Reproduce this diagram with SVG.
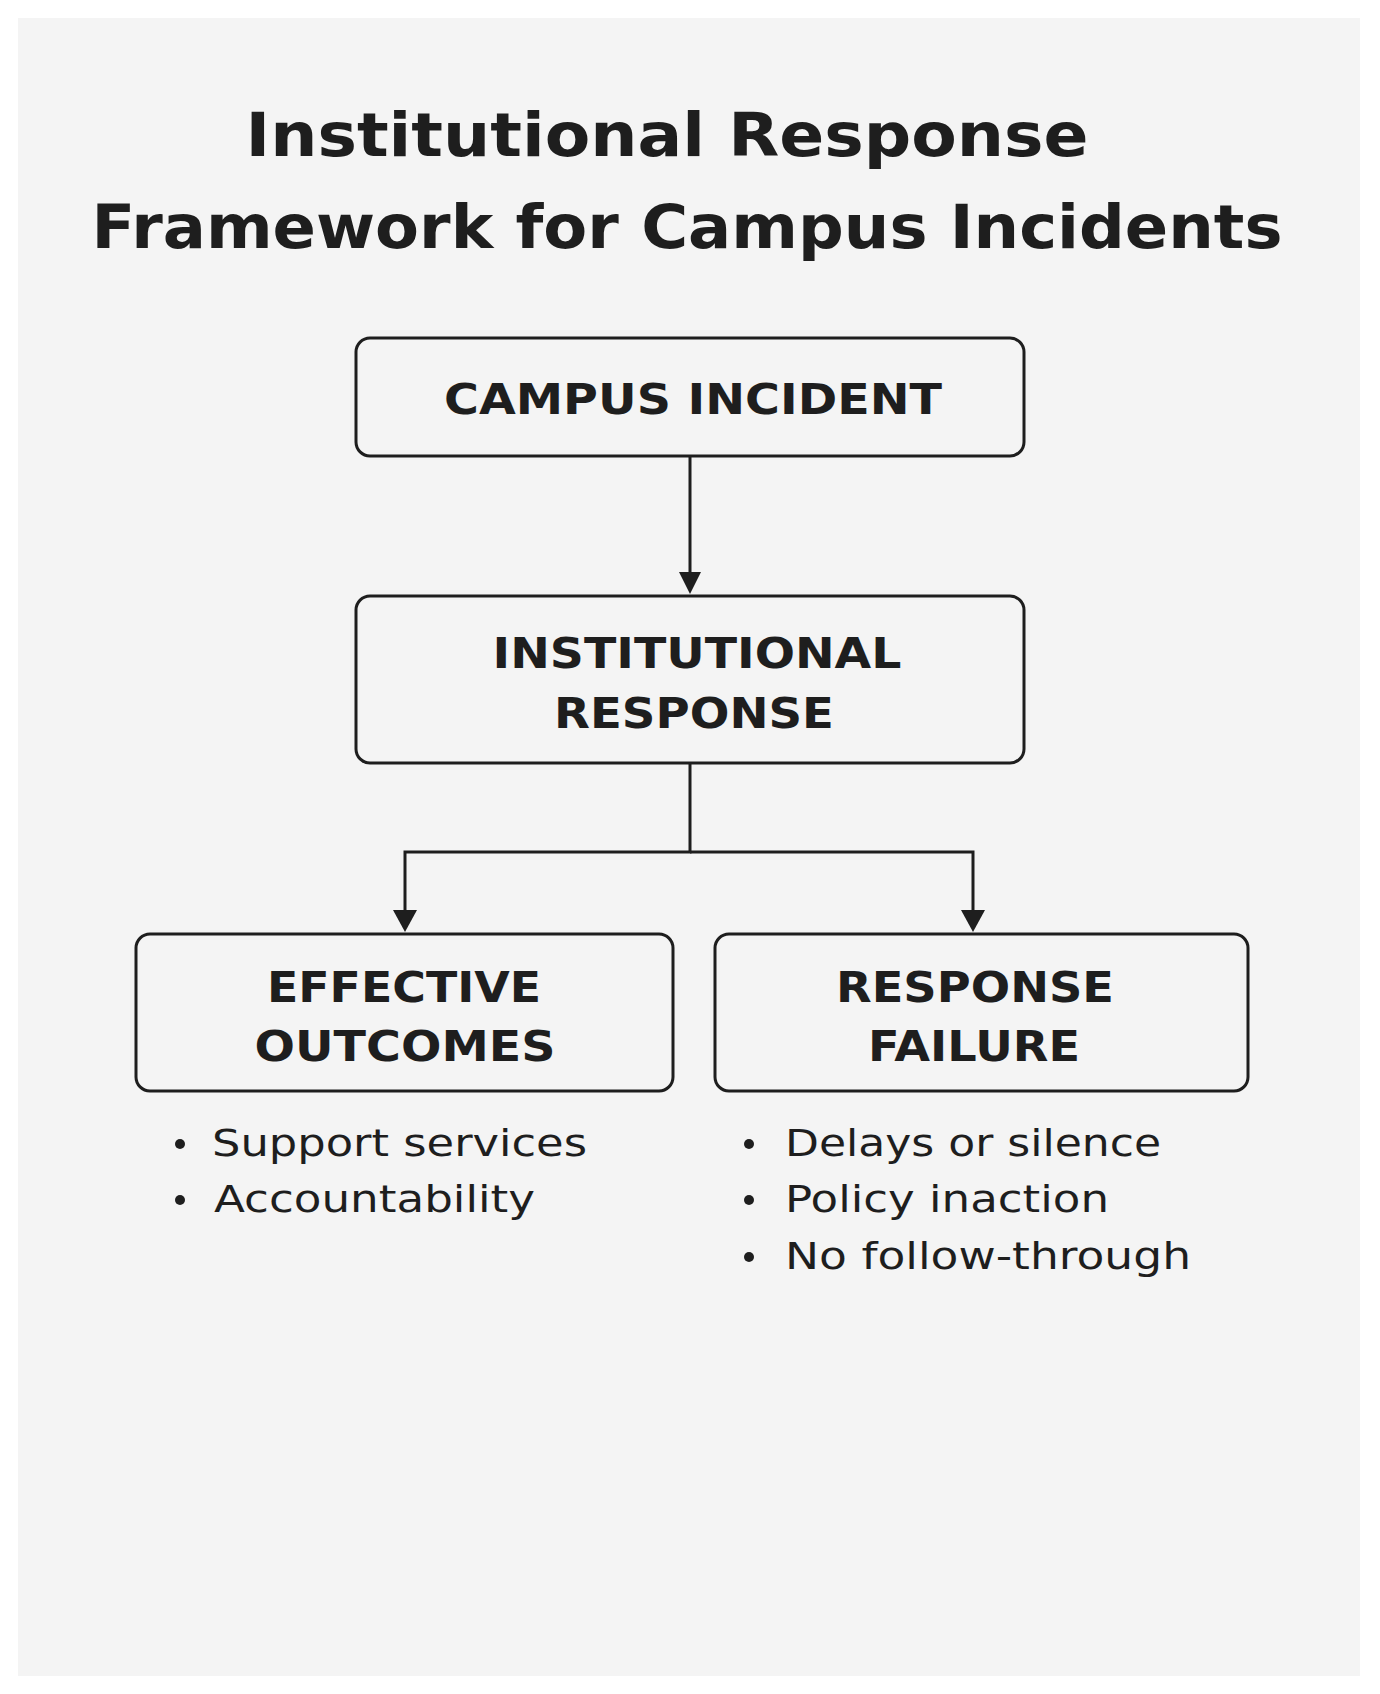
<svg xmlns="http://www.w3.org/2000/svg" width="1380" height="1694" viewBox="0 0 1380 1694">
<defs>
<style>
.box{fill:#f4f4f4;stroke:#1e1e1e;stroke-width:3}
.lbl{font-family:"DejaVu Sans","Liberation Sans",sans-serif;font-weight:700;font-size:42px;fill:#1e1e1e;text-anchor:middle}
.bul{font-family:"DejaVu Sans","Liberation Sans",sans-serif;font-size:38px;fill:#1e1e1e}
.ttl{font-family:"DejaVu Sans","Liberation Sans",sans-serif;font-weight:700;font-size:60px;fill:#1e1e1e;text-anchor:middle}
.con{fill:none;stroke:#1e1e1e;stroke-width:3}
</style>
</defs>
<rect width="1380" height="1694" fill="#ffffff"/>
<rect x="18" y="18" width="1342" height="1658" fill="#f4f4f4"/>
<text class="ttl" x="667" y="156" textLength="843" lengthAdjust="spacingAndGlyphs">Institutional Response</text>
<text class="ttl" x="687" y="248" textLength="1191" lengthAdjust="spacingAndGlyphs">Framework for Campus Incidents</text>
<g id="connectors">
<line class="con" x1="690" y1="456" x2="690" y2="578"/>
<path d="M679,572 L701,572 L690,594z" fill="#1e1e1e"/>
<path class="con" d="M690,763 V852 H405 V914"/>
<path class="con" d="M690,852 H973 V914"/>
<path d="M393,910 L417,910 L405,932z" fill="#1e1e1e"/>
<path d="M961,910 L985,910 L973,932z" fill="#1e1e1e"/>
</g>
<g id="campus-incident"><rect class="box" x="356" y="338" width="668" height="118" rx="14"/><text class="lbl" x="693" y="414" textLength="498" lengthAdjust="spacingAndGlyphs">CAMPUS INCIDENT</text></g>
<g id="institutional-response"><rect class="box" x="356" y="596" width="668" height="167" rx="14"/><text class="lbl" x="697" y="668" textLength="409" lengthAdjust="spacingAndGlyphs">INSTITUTIONAL</text><text class="lbl" x="694" y="728" textLength="280" lengthAdjust="spacingAndGlyphs">RESPONSE</text></g>
<g id="effective-outcomes"><rect class="box" x="136" y="934" width="537" height="157" rx="14"/><text class="lbl" x="404" y="1002" textLength="274" lengthAdjust="spacingAndGlyphs">EFFECTIVE</text><text class="lbl" x="405" y="1061" textLength="301" lengthAdjust="spacingAndGlyphs">OUTCOMES</text></g>
<g id="response-failure"><rect class="box" x="715" y="934" width="533" height="157" rx="14"/><text class="lbl" x="975" y="1002" textLength="278" lengthAdjust="spacingAndGlyphs">RESPONSE</text><text class="lbl" x="974" y="1061" textLength="212" lengthAdjust="spacingAndGlyphs">FAILURE</text></g>
<g id="effective-list">
<circle cx="180" cy="1144" r="5" fill="#1e1e1e"/><text class="bul" x="212" y="1156" textLength="375" lengthAdjust="spacingAndGlyphs">Support services</text>
<circle cx="180" cy="1200" r="5" fill="#1e1e1e"/><text class="bul" x="214" y="1212" textLength="321" lengthAdjust="spacingAndGlyphs">Accountability</text>
</g>
<g id="failure-list">
<circle cx="749" cy="1144" r="5" fill="#1e1e1e"/><text class="bul" x="785" y="1156" textLength="376" lengthAdjust="spacingAndGlyphs">Delays or silence</text>
<circle cx="749" cy="1200" r="5" fill="#1e1e1e"/><text class="bul" x="785" y="1212" textLength="324" lengthAdjust="spacingAndGlyphs">Policy inaction</text>
<circle cx="749" cy="1257" r="5" fill="#1e1e1e"/><text class="bul" x="785" y="1269" textLength="406" lengthAdjust="spacingAndGlyphs">No follow-through</text>
</g>
</svg>
